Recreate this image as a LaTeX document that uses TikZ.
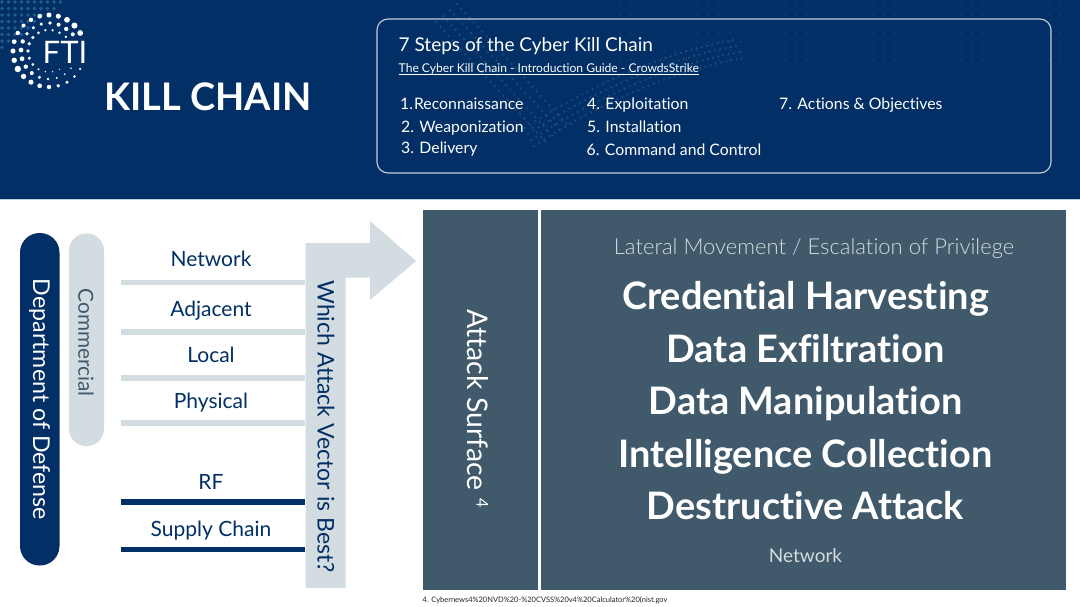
\documentclass[tikz,border=0pt]{standalone}
\usepackage{fontspec}
\setmainfont{Lato}[Ligatures=NoCommon]
\newfontfamily\lightfont{Lato Light}[Ligatures=NoCommon]
\definecolor{navy}{HTML}{012F66}
\definecolor{pale}{HTML}{D3DCE0}
\definecolor{slate}{HTML}{40596B}
\definecolor{wave}{HTML}{2A6A97}
\definecolor{boxline}{HTML}{C4D0DA}
\tikzset{
  x=1pt,y=-1pt,
  steptext/.style={inner sep=0pt,anchor=base west,text=white,font=\fontsize{15.8}{15.8}\selectfont},
  vec/.style={inner sep=0pt,anchor=base,text=navy,font=\fontsize{21}{21}\selectfont},
  big/.style={inner sep=0pt,anchor=base,text=white,font=\fontsize{37.9}{37.9}\selectfont\bfseries},
  logodot/.style={fill=white,draw=none},
}
\begin{document}
\begin{tikzpicture}
\useasboundingbox (0,0) rectangle (1080,606);
\fill[white] (0,0) rectangle (1080,606);
% header
\fill[navy] (0,0) rectangle (1080,199);
\fill[boxline] (0,199) rectangle (1080,200);
% textures
\begin{scope}
\clip (0,0) rectangle (1080,199);
\foreach \i in {0,...,10}{\foreach \j in {0,...,8}{
  \pgfmathsetmacro{\xx}{\i*6.5+2}\pgfmathsetmacro{\yy}{\j*6.5+2}
  \pgfmathsetmacro{\dd}{\xx*0.8+\yy}
  \ifdim\dd pt<52pt
   \fill[wave,opacity=.8] (\xx,\yy) circle (1.8);
  \fi
}}
% left and right arms of the dotted wave
\foreach \t in {0,...,26}{\foreach \k in {0,...,3}{
  \pgfmathsetmacro{\xx}{436+\t*4.2+\k*7}
  \pgfmathsetmacro{\yy}{22+\t*4.6-\k*6}
  \fill[wave,opacity=.5] (\xx,\yy) circle (1.3);
}}
\foreach \t in {0,...,40}{\foreach \k in {0,...,3}{
  \pgfmathsetmacro{\xx}{525+\t*5.2+\k*3}
  \pgfmathsetmacro{\yy}{128-\t*3.4+0.03*\t*\t+\k*6}
  \fill[wave,opacity=.5] (\xx,\yy) circle (1.3);
}}
\foreach \i in {0,...,40}{\foreach \j in {0,...,6}{
  \fill[wave,opacity=.25] (620+\i*11,6+\j*9) circle (1.1);
}}
\foreach \i in {0,...,9}{\foreach \j in {0,...,5}{
  \fill[wave,opacity=.15] (300+\i*9,6+\j*9) circle (1);
}}
\end{scope}
% logo
\foreach \a/\r/\s in {
 30/36/3.4,45/36/3.6,60/36/3.4,75/36/3,90/36/3,105/36/2.8,120/36/2.6,135/36/2.4,150/36/2.6,165/36/2.8,180/36/3,195/36/3.2,210/36/3.8,225/36/3.2,240/36/3,255/36/2.8,270/36/2.6,285/36/2.2,300/36/1.9,315/36/1.6,330/36/1.4,
 35/29/2.4,52/28/2.6,70/28/2.4,88/28/2.2,106/28/2,124/28/2,142/28/2.2,160/28/2.6,178/28/2.8,196/28/2.8,214/28/2.6,232/28/2.4,250/28/2,268/28/1.6,286/28/1.3,304/28/1.1,322/28/1,
 40/22/1.6,60/21/1.6,80/21/1.5,100/21/1.5,120/21/1.8,140/21/2,160/21/2.2,180/21/2.2,200/21/2,220/21/1.8,240/21/1.4,260/21/1,280/21/.9,300/21/.8}
{\fill[logodot] (49+\r*cos \a,51-\r*sin \a) circle (\s*.85);}
\node[inner sep=0pt,text=white,font=\fontsize{31}{31}\selectfont] (fti) at (65,52.5) {FTI};
\node[inner sep=0pt,anchor=base west,text=white,font=\fontsize{38}{38}\selectfont\bfseries] (title) at (104,110) {KILL CHAIN};
% steps box
\draw[boxline,line width=1.1pt,rounded corners=11pt] (377,19) rectangle (1051,173);
\node[inner sep=0pt,anchor=base west,text=white,font=\fontsize{19}{19}\selectfont] (h) at (398.5,51) {7 Steps of the Cyber Kill Chain};
\node[inner sep=0pt,anchor=base west,text=white,font=\fontsize{12.1}{12.1}\selectfont] (link) at (398.5,72) {The Cyber Kill Chain - Introduction Guide - CrowdsStrike};
\draw[white,line width=.7pt] ([yshift=-2pt]link.base west) -- ([yshift=-2pt]link.base east);
\node[steptext] (s1) at (400,109) {1.\kern1pt Reconnaissance};
\node[steptext] (s2) at (401,132) {2. Weaponization};
\node[steptext] (s3) at (401,153) {3. Delivery};
\node[steptext] (s4) at (587,109) {4. Exploitation};
\node[steptext] (s5) at (587,132) {5. Installation};
\node[steptext] (s6) at (586.5,155) {6. Command and Control};
\node[steptext] (s7) at (779,109) {7. Actions \& Objectives};
% left pills
\fill[navy,rounded corners=19.5pt] (20,233) rectangle (59.5,565.5);
\node[inner sep=0pt,rotate=-90,text=white,font=\fontsize{23.2}{23.2}\selectfont] (dod) at (39.5,399.5) {Department of Defense};
\fill[pale,rounded corners=17pt] (69,233.5) rectangle (104,446);
\node[inner sep=0pt,rotate=-90,text=slate,font=\fontsize{20.8}{20.8}\selectfont] (com) at (86,342.5) {Commercial};
% rules
\fill[pale] (121,279.5) rectangle (305,285);
\fill[pale] (121,329) rectangle (305,334.5);
\fill[pale] (121,375) rectangle (305,380.5);
\fill[pale] (121,420) rectangle (305,425.5);
\fill[navy] (121,499) rectangle (305,504.5);
\fill[navy] (121,546.5) rectangle (305,552);
\node[vec] (n1) at (211,266) {Network};
\node[vec] (n2) at (211,316) {Adjacent};
\node[vec] (n3) at (211,362) {Local};
\node[vec] (n4) at (211,408) {Physical};
\node[vec] (n5) at (211,489) {RF};
\node[vec] (n6) at (211,536) {Supply Chain};
% bent arrow
\fill[pale] (305.5,588) -- (305.5,243) -- (370,243) -- (370,221) -- (416,261) -- (370,300) -- (370,277.5) -- (345.5,277.5) -- (345.5,588) -- cycle;
\node[inner sep=0pt,rotate=-90,text=navy,font=\fontsize{23}{23}\selectfont] (q) at (326,426.5) {Which Attack Vector is Best?};
% panels
\fill[slate] (422.5,210) rectangle (537.5,589.5);
\fill[slate] (541,210) rectangle (1066,589.5);
\node[inner sep=0pt,rotate=-90,text=white,font=\fontsize{28.4}{28.4}\selectfont] (as) at (478,408.5) {Attack Surface\hspace{8pt}\raisebox{9pt}{\fontsize{16}{16}\selectfont 4}};
\node[inner sep=0pt,anchor=base,text=pale,font=\fontsize{22}{22}\selectfont\lightfont] (lm) at (814,254) {Lateral Movement / Escalation of Privilege};
\node[big] (b1) at (805.5,309) {Credential Harvesting};
\node[big] (b2) at (805.5,362) {Data Exfiltration};
\node[big] (b3) at (805.5,414) {Data Manipulation};
\node[big] (b4) at (805.5,467) {Intelligence Collection};
\node[big] (b5) at (805.5,519) {Destructive Attack};
\node[inner sep=0pt,anchor=base,text=pale,font=\fontsize{19}{19}\selectfont] (net) at (805.5,562) {Network};
\node[inner sep=0pt,anchor=base west,text=black!85,font=\fontsize{7.5}{7.5}\selectfont] (fn) at (422.5,602) {4. Cybernews4\%20NVD\%20-\%20CVSS\%20v4\%20Calculator\%20(nist.gov};
\end{tikzpicture}
\end{document}
